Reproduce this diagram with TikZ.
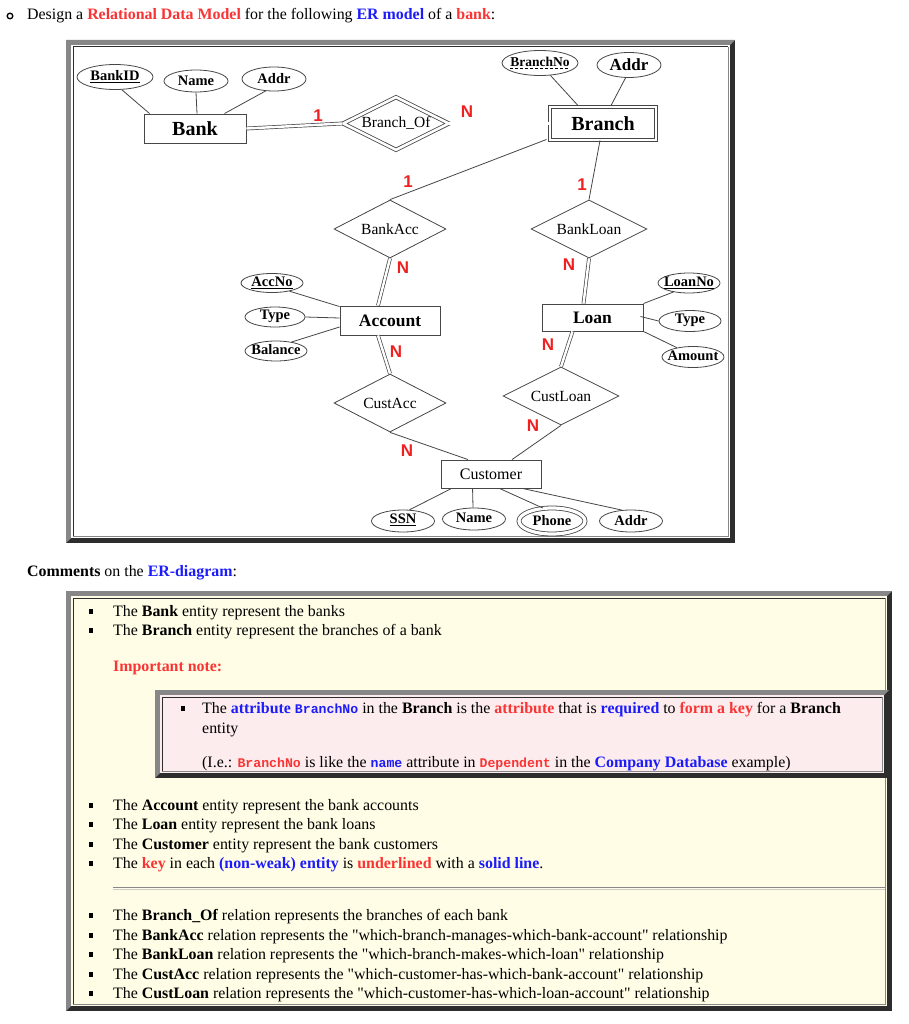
\documentclass[tikz,border=0pt]{standalone}
\usepackage{fontspec}
\setmainfont{Liberation Serif}
\setmonofont{Liberation Mono}
\newfontfamily\lsans{Liberation Sans}
\usetikzlibrary{shapes.geometric}
\definecolor{hred}{RGB}{250,52,52}
\definecolor{hblue}{RGB}{28,28,250}
\definecolor{nred}{RGB}{240,32,32}
\definecolor{ylbg}{RGB}{255,253,229}
\definecolor{pkbg}{RGB}{252,236,237}
\definecolor{ecol}{RGB}{70,70,70}
\definecolor{bdark}{RGB}{45,45,45}
\definecolor{blight}{RGB}{135,135,135}
\newcommand{\hR}[1]{\textcolor{hred}{\textbf{#1}}}
\newcommand{\hB}[1]{\textcolor{hblue}{\textbf{#1}}}
\newcommand{\mR}[1]{\textcolor{hred}{{\fontsize{13.2}{15}\selectfont\ttfamily\bfseries #1}}}
\newcommand{\mB}[1]{\textcolor{hblue}{{\fontsize{13.2}{15}\selectfont\ttfamily\bfseries #1}}}
\newcommand{\sqbul}[2]{\fill (#1-1.8,#2-2.2) rectangle (#1+1.8,#2+2.8);}
\newcommand{\qq}{\textquotedbl}
\newcommand{\bevelbox}[4]{%
  \fill[bdark] (#1,#2) rectangle (#3,#4);
  \fill[blight] (#1,#2) -- (#3,#2) -- (#3-5,#2+5) -- (#1+5,#2+5) -- (#1+5,#4-5) -- (#1,#4) -- cycle;}
\begin{document}
\begin{tikzpicture}[x=1pt,y=-1pt,
  txt/.style={anchor=base west, inner sep=0pt, font=\fontsize{15.9}{19}\selectfont},
  ent/.style={draw=ecol, line width=0.9pt, rectangle, inner sep=0pt, fill=white},
  attr/.style={draw=ecol, line width=0.8pt, ellipse, inner sep=0pt, minimum width=62pt, minimum height=22pt},
  atxt/.style={inner sep=0pt, font=\bfseries\fontsize{14.5}{15}\selectfont},
  rel/.style={draw=ecol, line width=0.8pt, diamond, aspect=2, inner sep=0pt, minimum width=112pt, minimum height=58pt, font=\fontsize{15.5}{16}\selectfont},
  con/.style={draw=ecol, line width=0.8pt},
  dcon/.style={draw=ecol, line width=0.7pt, double, double distance=2.4pt},
  card/.style={text=nred, inner sep=0pt, font=\lsans\bfseries\fontsize{17}{17}\selectfont}]
\useasboundingbox (0,0) rectangle (909,1024);
\fill[white] (0,0) rectangle (909,1024);

% ---------- heading ----------
\draw[line width=1.3pt] (10,16) circle (2.8);
\node[txt] (head) at (27,20) {Design a \hR{Relational Data Model} for the following \hB{ER model} of a \hR{bank}:};

% ---------- ER frame ----------
\bevelbox{66}{40}{735}{543}
\fill[white] (71,45) rectangle (730,538);
\draw[bdark, line width=1pt] (73,536) -- (73,47) -- (728,47);
\draw[blight, line width=1pt] (728,47) -- (728,536) -- (73,536);

% entities
\node[ent, minimum width=102pt, minimum height=29pt, font=\bfseries\fontsize{20}{20}\selectfont] (bank) at (195,128.5) {Bank};
\node[ent, double, double distance=2.6pt, minimum width=106pt, minimum height=33pt, font=\bfseries\fontsize{20}{20}\selectfont] (branch) at (603,123.5) {Branch};
\node[ent, minimum width=100pt, minimum height=29pt, font=\bfseries\fontsize{17.5}{18}\selectfont] (account) at (390,320.5) {Account};
\node[ent, minimum width=101pt, minimum height=27pt, font=\bfseries\fontsize{17.5}{18}\selectfont] (loan) at (592.5,317.5) {Loan};
\node[ent, minimum width=100pt, minimum height=28pt, font=\fontsize{16}{16}\selectfont] (customer) at (491,474) {Customer};

% relationships
\node[rel, double, double distance=2.6pt, minimum width=106pt, minimum height=53pt] (branchof) at (396,123.5) {Branch\_Of};
\node[rel] (bankacc) at (390,229) {BankAcc};
\node[rel, minimum width=116pt] (bankloan) at (589,229) {BankLoan};
\node[rel] (custacc) at (390,403) {CustAcc};
\node[rel, minimum width=116pt] (custloan) at (561,396) {CustLoan};

% attributes
\node[attr, minimum width=76pt, minimum height=25pt] (bankid) at (115,77) {};
\node[atxt] (bankidt) at (115,77) {\underline{BankID}};
\node[attr, minimum width=64pt] (bname) at (196,81) {};
\node[atxt] (bnamet) at (196,81) {Name};
\node[attr, minimum width=64pt, minimum height=24pt] (baddr) at (274,79) {};
\node[atxt] (baddrt) at (274,79) {Addr};
\node[attr, minimum width=76pt, minimum height=25pt] (brno) at (540,63) {};
\node[atxt, font=\bfseries\fontsize{13.5}{14}\selectfont] (brnot) at (540,62) {BranchNo};
\draw[black, line width=1pt, dash pattern=on 3pt off 2pt] ([yshift=-2pt]brnot.south west) -- ([yshift=-2pt]brnot.south east);
\node[attr, minimum width=64pt, minimum height=25pt] (braddr) at (629,65) {};
\node[atxt, font=\bfseries\fontsize{17}{17}\selectfont] (braddrt) at (629,65) {Addr};

\node[attr, minimum width=62pt, minimum height=19pt] (accno) at (272,283) {};
\node[atxt] (accnot) at (272,282.5) {\underline{AccNo}};
\node[attr, minimum width=60pt, minimum height=20pt] (atype) at (275,317) {};
\node[atxt] (atypet) at (275,316) {Type};
\node[attr, minimum width=62pt, minimum height=20pt] (balance) at (276,351) {};
\node[atxt] (balancet) at (276,350) {Balance};

\node[attr, minimum width=62pt, minimum height=20pt] (loanno) at (689,283) {};
\node[atxt] (loannot) at (689,282.5) {\underline{LoanNo}};
\node[attr, minimum width=62pt, minimum height=21pt] (ltype) at (690,321) {};
\node[atxt] (ltypet) at (690,320) {Type};
\node[attr, minimum width=62pt, minimum height=21pt] (amount) at (693,357) {};
\node[atxt] (amountt) at (693,356) {Amount};

\node[attr, minimum width=63pt, minimum height=22pt] (ssn) at (403,521) {};
\node[atxt] (ssnt) at (403,520) {\underline{SSN}};
\node[attr, minimum width=63pt, minimum height=22pt] (cname) at (474,519) {};
\node[atxt] (cnamet) at (474,518) {Name};
\node[attr, double, double distance=3.2pt, minimum width=66pt, minimum height=26pt] (phone) at (552,521) {};
\node[atxt] (phonet) at (552,521) {Phone};
\node[attr, minimum width=63pt, minimum height=22pt] (caddr) at (631,521) {};
\node[atxt] (caddrt) at (631,521) {Addr};

% connectors
\draw[dcon] (bank.east) -- (branchof.west);
\draw[dcon] (branchof.east) -- (branch.west);
\draw[con] (bankid.-62) -- ([xshift=6pt]bank.north west);
\draw[con] (bname.south) -- ([xshift=2pt]bank.north);
\draw[con] (baddr.-125) -- ([xshift=-22pt]bank.north east);
\draw[con] (brno.-50) -- ([xshift=-25pt,yshift=1pt]branch.north);
\draw[con] (braddr.-105) -- ([xshift=8pt,yshift=1pt]branch.north);
\draw[con] ([xshift=-3pt,yshift=1pt]branch.south west) -- (bankacc.north);
\draw[con] ([xshift=-3pt]branch.south) -- (bankloan.north);
\draw[dcon] (bankacc.south) -- ([xshift=-12pt]account.north);
\draw[dcon] ([xshift=-12pt]account.south) -- (custacc.north);
\draw[dcon] (bankloan.south) -- ([xshift=-9pt]loan.north);
\draw[dcon] ([xshift=-20pt]loan.south) -- (custloan.north);
\draw[con] (custacc.south) -- ([xshift=-23pt]customer.north);
\draw[con] (custloan.south) -- ([xshift=21pt]customer.north);
\draw[con] (accno.-25) -- ([yshift=-1pt]account.north west);
\draw[con] (atype.east) -- ([yshift=2.5pt]account.west);
\draw[con] (balance.30) -- ([yshift=-6.5pt]account.west);
\draw[con] (loanno.-150) -- (loan.north east);
\draw[con] (ltype.west) -- ([xshift=-3pt,yshift=1pt]loan.east);
\draw[con] (amount.150) -- (loan.south east);
\draw[con] ([xshift=11pt]customer.south west) -- (ssn.60);
\draw[con] ([xshift=32pt]customer.south west) -- (cname.95);
\draw[con] ([xshift=59pt]customer.south west) -- (phone.125);
\draw[con] ([xshift=82pt]customer.south west) -- (caddr.130);

% cardinalities
\node[card] (c1) at (318,116) {1};
\node[card] (c2) at (467,112) {N};
\node[card] (c3) at (408,182) {1};
\node[card] (c4) at (582,185) {1};
\node[card] (c5) at (403,268) {N};
\node[card] (c6) at (569,265) {N};
\node[card] (c7) at (396,352) {N};
\node[card] (c8) at (548,345) {N};
\node[card] (c9) at (533,426) {N};
\node[card] (c10) at (407,451) {N};

% ---------- comments ----------
\node[txt] (cmt) at (27,576) {\textbf{Comments} on the \hB{ER-diagram}:};

\bevelbox{66}{591}{892}{1011}
\fill[ylbg] (71,596) rectangle (887,1006);
\draw[bdark, line width=1pt] (73,1004) -- (73,598) -- (885,598);
\draw[blight, line width=1pt] (885,598) -- (885,1004) -- (73,1004);

\sqbul{91}{611}\sqbul{91}{630}
\node[txt] (l1) at (113,616) {The \textbf{Bank} entity represent the banks};
\node[txt] (l2) at (113,635) {The \textbf{Branch} entity represent the branches of a bank};
\node[txt] (imp) at (113,671) {\hR{Important note:}};

\bevelbox{155}{690}{889}{778}
\fill[pkbg] (160,695) rectangle (884,773);
\draw[bdark, line width=1pt] (162,771) -- (162,697) -- (882,697);
\draw[blight, line width=1pt] (882,697) -- (882,771) -- (162,771);
\sqbul{183}{708}
\node[txt] (n1) at (202,713) {The \hB{attribute} \mB{BranchNo} in the \textbf{Branch} is the \hR{attribute} that is \hB{required} to \hR{form a key} for a \textbf{Branch}};
\node[txt] (n2) at (202,733) {entity};
\node[txt] (n3) at (202,767) {(I.e.: \mR{BranchNo} is like the \mB{name} attribute in \mR{Dependent} in the \hB{Company Database} example)};

\sqbul{91}{805}\sqbul{91}{824}\sqbul{91}{844}\sqbul{91}{863}
\node[txt] (l3) at (113,810) {The \textbf{Account} entity represent the bank accounts};
\node[txt] (l4) at (113,829) {The \textbf{Loan} entity represent the bank loans};
\node[txt] (l5) at (113,849) {The \textbf{Customer} entity represent the bank customers};
\node[txt] (l6) at (113,868) {The \hR{key} in each \hB{(non-weak) entity} is \hR{underlined} with a \hB{solid line}.};

\draw[blight, line width=1pt] (113,887.5) -- (885,887.5);
\draw[gray!40, line width=1pt] (113,889) -- (885,889);

\sqbul{91}{915}\sqbul{91}{935}\sqbul{91}{954}\sqbul{91}{974}\sqbul{91}{993}
\node[txt] (r1) at (113,920) {The \textbf{Branch\_Of} relation represents the branches of each bank};
\node[txt] (r2) at (113,940) {The \textbf{BankAcc} relation represents the \qq which-branch-manages-which-bank-account\qq{} relationship};
\node[txt] (r3) at (113,959) {The \textbf{BankLoan} relation represents the \qq which-branch-makes-which-loan\qq{} relationship};
\node[txt] (r4) at (113,979) {The \textbf{CustAcc} relation represents the \qq which-customer-has-which-bank-account\qq{} relationship};
\node[txt] (r5) at (113,998) {The \textbf{CustLoan} relation represents the \qq which-customer-has-which-loan-account\qq{} relationship};
\end{tikzpicture}
\end{document}
